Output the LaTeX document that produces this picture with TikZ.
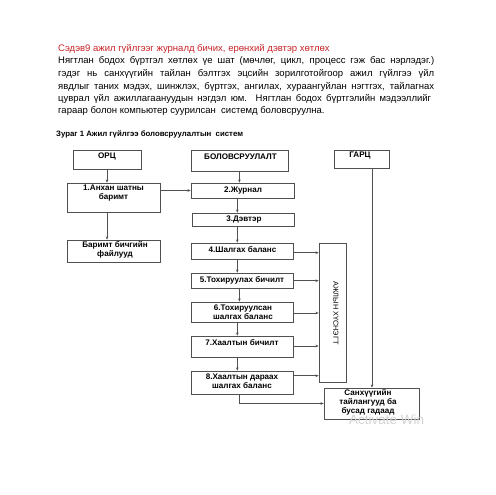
\documentclass[tikz,border=0pt]{standalone}
\usepackage{fontspec}
\setmainfont{Liberation Sans}
\usetikzlibrary{arrows.meta}
\definecolor{titlered}{RGB}{200,35,40}
\definecolor{linegray}{RGB}{80,80,80}
\definecolor{wmgray}{RGB}{212,212,212}
\begin{document}
\begin{tikzpicture}[x=1pt,y=-1pt,
  box/.style={draw=linegray, line width=0.6pt, inner sep=0pt},
  lbl/.style={font=\fontsize{8.1}{9.1}\selectfont\bfseries, align=center, inner sep=0pt},
  arr/.style={draw=linegray, line width=0.6pt, -{Stealth[length=3.2pt,width=2.6pt]}},
  para/.style={font=\fontsize{9.5}{11}\selectfont, anchor=west, inner sep=0pt},
  wm/.style={font=\fontsize{13.5}{14}\selectfont, text=wmgray, anchor=west, inner sep=0pt}]
\fill[white] (0,0) rectangle (495,495);
\useasboundingbox (0,0) rectangle (495,495);

% heading and paragraph
\node[para, text=titlered] (title) at (58,49) {Сэдэв9 ажил гүйлгээг журналд бичих, ерөнхий дэвтэр хөтлөх};
\node[para] (p1) at (58,61.5) {\makebox[376pt][s]{Нягтлан бодох бүртгэл хөтлөх үе шат (мөчлөг, цикл, процесс гэж бас нэрлэдэг.)}};
\node[para] (p2) at (58,74) {\makebox[376pt][s]{гэдэг нь санхүүгийн тайлан бэлтгэх эцсийн зорилготойгоор ажил гүйлгээ үйл}};
\node[para] (p3) at (58,86.5) {\makebox[376pt][s]{явдлыг таних мэдэх, шинжлэх, бүртгэх, ангилах, хураангуйлан нэгтгэх, тайлагнах}};
\node[para] (p4) at (58,99) {\makebox[373pt][s]{цуврал үйл ажиллагаануудын нэгдэл юм. Нягтлан бодох бүртгэлийн мэдээллийг}};
\node[para] (p5) at (58,111) {гараар болон компьютер суурилсан\ \ системд боловсруулна.};
\node[para, font=\fontsize{7.8}{8}\selectfont\bfseries] (cap) at (56,134) {Зураг 1 Ажил гүйлгээ боловсруулалтын\ \ систем};

% boxes
\node[box, minimum width=68, minimum height=19] (orc) at (107,159.5) {};
\node[box, minimum width=97, minimum height=21] (bol) at (239.5,160.5) {};
\node[box, minimum width=55, minimum height=18] (garc) at (361.5,159) {};
\node[box, minimum width=93, minimum height=29] (b1) at (113.5,197.5) {};
\node[box, minimum width=93, minimum height=22] (files) at (113.5,251) {};
\node[box, minimum width=103, minimum height=15] (j2) at (242.5,190.5) {};
\node[box, minimum width=102, minimum height=13] (d3) at (243,219.5) {};
\node[box, minimum width=102, minimum height=16] (s4) at (242,251) {};
\node[box, minimum width=102, minimum height=15] (t5) at (242,280.5) {};
\node[box, minimum width=102, minimum height=20] (t6) at (242,312) {};
\node[box, minimum width=102, minimum height=21] (h7) at (242,346.5) {};
\node[box, minimum width=102, minimum height=23] (h8) at (242,382.5) {};
\node[box, minimum width=27, minimum height=139] (ajl) at (332.5,312.5) {};
\node[box, minimum width=95, minimum height=31] (san) at (371.5,403.5) {};

% labels
\node[lbl] (orct) at (107,156) {ОРЦ};
\node[lbl] (bolt) at (240.5,156.7) {БОЛОВСРУУЛАЛТ};
\node[lbl] (garct) at (360,156) {ГАРЦ};
\node[lbl] (b1t) at (113.5,193) {1.Анхан шатны\\баримт};
\node[lbl] (filest) at (115,250) {Баримт бичгийн\\файлууд};
\node[lbl] (j2t) at (243,190.7) {2.Журнал};
\node[lbl] (d3t) at (244,220) {3.Дэвтэр};
\node[lbl] (s4t) at (242.5,249.8) {4.Шалгах баланс};
\node[lbl] (t5t) at (242,280) {5.Тохируулах бичилт};
\node[lbl] (t6t) at (243,312) {6.Тохируулсан\\шалгах баланс};
\node[lbl] (h7t) at (242,342.7) {7.Хаалтын бичилт};
\node[lbl] (h8t) at (242,381) {8.Хаалтын дараах\\шалгах баланс};
\node[lbl] (sant) at (368,402) {Санхүүгийн\\тайлангууд ба\\бусад гадаад};
\node[font=\fontsize{7.3}{8}\selectfont, rotate=-90, inner sep=0pt] (ajlt) at (336,313) {АЖЛЫН ХҮСНЭГТ};

% helper coordinates
\coordinate (ma) at (239.4,0);
\coordinate (mb) at (237.3,0);
\coordinate (gx) at (372,0);
\coordinate (a4) at (0,252.7);
\coordinate (a5) at (0,280.7);
\coordinate (a6) at (0,313);
\coordinate (a7) at (0,346);
\coordinate (a8) at (0,375.7);

% connectors
\draw[arr] (orc.south) -- (orc.south |- b1.north);
\draw[arr] (orc.south |- b1.south) -- (orc.south |- files.north);
\draw[arr] (b1.east |- j2.west) -- (j2.west);
\draw[arr] (ma |- bol.south) -- (ma |- j2.north);
\draw[arr] (mb |- j2.south) -- (mb |- d3.north);
\draw[arr] (mb |- d3.south) -- (mb |- s4.north);
\draw[arr] (mb |- s4.south) -- (mb |- t5.north);
\draw[arr] (ma |- t5.south) -- (ma |- t6.north);
\draw[arr] (mb |- t6.south) -- (mb |- h7.north);
\draw[arr] (mb |- h7.south) -- (mb |- h8.north);
\draw[arr] (ma |- h8.south) |- (san.west);
\draw[arr] (s4.east |- a4) -- (ajl.west |- a4);
\draw[arr] (t5.east |- a5) -- (ajl.west |- a5);
\draw[arr] (t6.east |- a6) -- (ajl.west |- a6);
\draw[arr] (h7.east |- a7) -- (ajl.west |- a7);
\draw[arr] (h8.east |- a8) -- (ajl.west |- a8);
\draw[arr] (gx |- garc.south) -- (gx |- san.north);

% watermark
\node[wm] (wmark) at (349,420) {Activate Win};
\end{tikzpicture}
\end{document}
